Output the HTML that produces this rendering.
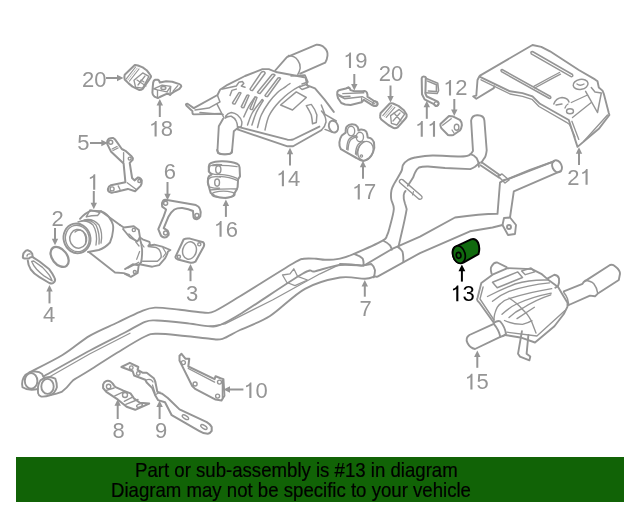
<!DOCTYPE html>
<html><head><meta charset="utf-8">
<style>
html,body{margin:0;padding:0;background:#fff;width:640px;height:512px;overflow:hidden}
svg{position:absolute;left:0;top:0;will-change:transform}
.banner{position:absolute;left:16px;top:457px;width:608px;height:45px;background:#116306}
.t{position:absolute;will-change:transform;font-family:"Liberation Sans",sans-serif;font-size:18.63px;color:#000;white-space:pre;line-height:20px;transform:scaleY(1.07);transform-origin:0 16px;-webkit-text-stroke:0.2px #000}
</style></head><body>
<svg width="640" height="512" viewBox="0 0 640 512">
<g id="p7" stroke="#959595" stroke-width="1.89" fill="none" stroke-linejoin="round" stroke-linecap="round">
<path d="M29.5 372.3C35.0 369.4 52.4 361.1 62.5 355.0C72.6 348.9 80.8 341.0 90.0 335.6C99.2 330.2 109.2 326.5 117.5 322.5C125.8 318.5 133.8 314.3 140.0 311.8C146.2 309.3 148.3 307.9 155.0 307.6C161.7 307.3 171.7 309.0 180.0 309.8C188.3 310.6 199.2 312.5 205.0 312.7C210.8 312.9 209.2 313.7 215.0 311.0C220.8 308.3 227.1 304.2 240.0 296.3C252.9 288.4 281.9 270.1 292.5 263.8C303.1 257.6 299.8 259.6 303.8 258.8C307.8 258.0 312.8 258.6 316.3 258.8C319.8 259.0 321.1 259.8 325.0 259.8C328.9 259.8 335.2 259.6 340.0 258.6C344.8 257.6 347.0 256.9 354.0 253.9C361.0 250.9 376.7 244.0 382.2 240.9C387.7 237.8 385.8 237.7 387.0 235.5C388.2 233.3 388.4 232.4 389.5 228.0C390.6 223.6 393.5 214.0 393.8 209.2C394.1 204.4 391.6 202.2 391.2 199.0C390.8 195.8 391.0 192.6 391.5 190.0C392.0 187.4 392.7 186.6 394.4 183.4C396.1 180.2 400.1 174.1 401.5 171.0C402.9 167.9 401.9 166.8 403.0 165.0C404.1 163.2 406.0 161.2 408.0 160.0C410.0 158.8 410.9 158.2 415.0 157.5C419.1 156.8 424.2 155.7 432.5 155.5C440.8 155.3 458.2 157.1 465.0 156.3C471.8 155.6 471.7 151.9 473.0 151.0L471.1 120.6Q472 115 477.3 115.2Q484 115 484.4 120.6L486.7 150.3Q486 156 484.4 158.1L481.3 162.8"/>
<path d="M43.6 376.3C51.3 372.0 76.4 357.8 90.0 350.5C103.6 343.2 115.8 337.3 125.0 332.5C134.2 327.7 139.7 323.8 145.0 321.8C150.3 319.8 150.3 320.3 157.0 320.5C163.7 320.7 176.2 322.0 185.0 323.0C193.8 324.0 204.2 326.0 210.0 326.3C215.8 326.6 214.7 327.2 220.0 325.0C225.3 322.8 228.2 321.5 242.0 313.0C255.8 304.5 290.3 280.8 302.5 273.8C314.7 266.9 308.8 272.8 315.0 271.3C321.2 269.8 332.2 265.9 340.0 265.0C347.8 264.1 358.3 265.5 362.0 265.6Q366 265 366.6 264L391.6 249.2L420 236.7L455 217.5Q480 214 497.5 213.8L500 182.5Q503 180 508.8 178.8L553.8 161.3"/>
<path d="M47.5 378L90 353.8L130 333.2" stroke-width="1.24"/>
<path d="M210 326.3L225 323.8L272.5 300L320 273.8L340 264.4" stroke-width="1.30"/>
<path d="M50.6 395Q57 394 61.6 391.9Q67 388 71 382.5Q73 380 75.6 378.6C78.0 377.2 83.0 374.4 90.0 370.0C97.0 365.6 108.3 358.1 117.5 352.5C126.7 346.9 138.3 339.6 145.0 336.5C151.7 333.4 150.8 333.9 157.5 333.8C164.2 333.7 176.2 335.2 185.0 336.0C193.8 336.8 203.8 338.3 210.0 338.8C216.2 339.3 217.5 340.3 222.5 338.8C227.5 337.3 232.1 333.8 240.0 330.0C247.9 326.2 259.2 322.9 270.0 316.0C280.8 309.1 293.3 295.2 305.0 288.8C316.7 282.4 330.0 279.2 340.0 277.5C350.0 275.8 359.2 279.0 365.0 278.8C370.8 278.6 373.3 276.7 375.0 276.3Q376 277 377.5 276.6L420 253.1L470 231.3L492.5 227.5L502.5 225"/>
<path d="M354 253.9Q360 256 362.7 258.6Q364 262 363.4 265.6"/>
<path d="M383.8 241Q388 243 390 245.3Q391.5 248 391.9 249.7"/>
<path d="M340 264Q352 264 361.9 265.6Q367 264.5 371.3 264Q374 266 375 270.3Q375 274 373.6 277.3"/>
<path d="M397.8 246.9Q401 249 402.5 251.6Q403.5 256 403.3 261.7"/>
<path d="M398.6 246.1L401.7 232.8Q405 219 406.7 209.2Q405.5 205 404.9 203.3Q403.3 198 403.7 195.1Q404 192.5 405.5 191"/>
<path d="M407.8 185.8Q411 181 413.1 177.6Q414 175 414.9 172.9Q416 169.5 419 167.5Q422 166.4 428 166.5L445 168L470.3 169.1Q473 168 475 166.7L479.7 162.8"/>
<path d="M470.3 154.2Q474 155 476.6 158.1Q479 162 478.9 166.7"/>
<path d="M481.3 162L500 175.3M480.5 165.2L499.2 177.7"/>
<path d="M498 176L502 174L509 180L505 183Z" stroke-width="1.49"/>
<path d="M509.4 178.4L530 169.8L553.8 161.3"/>
<path d="M510 217.5L513.8 191.3L560 171.3"/>
<ellipse cx="557" cy="166.3" rx="4.6" ry="6.3" transform="rotate(-25 557 166.3)"/>
<path d="M502.5 225L504 218L510 217.5L516 225L515 234L508 235Z"/>
<circle cx="509" cy="227" r="2"/>
<path d="M25.6 374.7Q29 372 33.4 371.6Q39 371 42 373.9L43.6 377M22.5 387.2Q21 380 25.6 374.7M22.5 387.2Q28 391 38 389"/>
<ellipse cx="31.1" cy="380.9" rx="6.3" ry="7.8"/>
<path d="M38.1 393.4Q37 385 40.5 380.2Q45 377 50.6 377L55.3 378.6Q57 383 56.9 387.2Q55 393 50.6 395Q45 397 41.3 396.6Q38.5 395.5 38.1 393.4"/>
<ellipse cx="47.5" cy="386.4" rx="6.2" ry="7.5"/>
<path d="M282.5 275L286.9 282.5L295 285.6L307.5 280L297.5 276.3L293.8 268.8L290 273.8Z" stroke-width="1.30"/>
<path d="M402.6 179.6Q400 178.8 399.3 181.3Q399.2 182.5 400.5 183.2L418.8 199Q421 199.8 422 198Q422.3 196.5 421.3 195.7Z" stroke-width="1.40"/><path d="M413.5 191.5L412.5 195" stroke-width="1.08"/>
</g>
<g id="p15" stroke="#959595" stroke-width="1.89" fill="none" stroke-linejoin="round" stroke-linecap="round">
<path d="M491.6 273.8Q490 268 491.6 266.3Q494 262 497.2 262.5L506.6 267.2"/>
<path d="M547.8 278.4L554.4 274.7Q558 275 559 278.4Q559.5 283 558.1 285.9L555.3 287.8"/>
<path d="M493.8 322.8L479.4 302.8Q476 300 477.5 298.1L481.3 283.1L492.5 274.7L507.5 268.1L531.9 269.1L541.3 273.8L547.8 279.4L558.1 286.9L561.9 293.4L567.5 302.8L567.5 306.6L563.8 314L554.4 326.3L535 342.5L521.9 337.8L505 335"/>
<path d="M483.1 287L480 299L494 320" stroke-width="1.36"/>
<path d="M506.9 332.2L536.9 336L565 310.6" stroke-width="1.36"/>
<path d="M492.5 282.2L517.8 271.9L522.5 277.5L497.2 287.8Z" stroke-width="1.49"/>
<path d="M521.6 271L531 268L534.7 271.9L525.3 274.7Z" stroke-width="1.36"/>
<path d="M487.5 296.5Q500 290 515 284Q530 279.5 547.5 280" stroke-width="1.37"/>
<path d="M492.5 301.3Q500 295 509 291.4Q528 285 549.4 282.9" stroke-width="1.37"/>
<path d="M493.8 322.5Q494 316 495 312.9Q497 306 500.6 303.6Q504 300 510 298.4Q530 292 551.7 288.6" stroke-width="1.37"/>
<path d="M502 314.3Q510 307 516.6 304Q532 297 551.2 293.2" stroke-width="1.37"/>
<path d="M509 317.6Q516 311 523 308Q535 300 550.8 294.8" stroke-width="1.37"/>
<path d="M517 318.6L534.4 307.3" stroke-width="1.37"/>
<path d="M509 298Q513 300.5 516.6 303.6Q520 306.5 523.1 310.1Q525 312 526.9 313.9Q529.5 317.5 531.6 321.4L536 333" stroke-width="1.37"/>
<path d="M504.5 320.5Q512 324 522.5 324.4Q528 323 531.9 320.6" stroke-width="1.37"/>
<path d="M469.4 335Q465 338 467.5 343Q470 348 475 349L500.3 336.9M469.4 335L493.8 323.8"/>
<path d="M493.8 322.8Q498 320 500.3 321.5Q505 327 506 334Q504 336 500.3 336.9M493.8 323.8Q499 330 500.3 336.9"/>
<path d="M521.9 331.3L518 353.8L520 356.6L529.4 360.3L530.3 356.6L526.6 353.8L528.4 335"/>
<path d="M563.8 291.3L582.5 283.8L583.8 281.9L610 265Q613 264 615 266.3Q620 270 620 273.8L618.8 280L597.5 293.8L595 296.3L590 295.6L568.8 305"/>
<path d="M585 280.6Q591 281 593.8 283.8Q597 288 597.5 292.5M563.8 292.5Q566 295 567.5 298.8L568.8 305" stroke-width="1.49"/>
</g>
<g id="p14" stroke="#959595" stroke-width="1.89" fill="none" stroke-linejoin="round" stroke-linecap="round">
<path d="M193.8 108.1L187.5 103.8Q185 104 186.3 105.5L192.5 111.3Q192 114 193.8 114.4L221.3 113.8"/>
<path d="M193.8 108.1L217.5 95L220 89.8L227.5 84.8L245 76L262.5 69.1L268.8 69.1L275.9 72L305.6 77.5L307.2 85.3L315 88.4L324.4 99.4L333.8 111.9"/>
<path d="M195 110L208.8 108.1L220 101.9L217.5 95.6" stroke-width="1.49"/>
<path d="M216.9 103.8L223.8 117.5M200 112.5L223.1 114.4" stroke-width="1.49"/>
<path d="M223.1 118.8L218.8 126.3L217.5 150Q218 153 218.8 153.1Q222 154.6 226.3 154.4Q231 154 231.9 152.5L233.8 131.3L237.5 128.1"/>
<path d="M225.6 116.3Q228 113 231.3 112.5Q235 113 237.5 115Q241 118 241.9 121.9Q242 124 241.3 126.3L238.1 128.1M225 118.1Q228 116 231.3 116.3Q235 118 236.3 121.3Q237.5 124 237.5 126.9" stroke-width="1.49"/>
<path d="M238.1 126.9L287.5 139.7Q291 140.2 293 139.5L319.4 126.6M237.5 129.4L287.5 146.3L293.1 146.3L321.3 130.3"/>
<path d="M321.3 105L325 114.4M325 114.4L336.3 121M325 129.4L332.5 132.2M321.5 111Q326 116 326 122Q325 127 321.5 130" stroke-width="1.49"/>
<ellipse cx="333.5" cy="126.6" rx="4.5" ry="6" transform="rotate(-20 333.5 126.6)"/>
<path d="M275.2 70.5L286.9 57.2L316.6 44.7Q322 44.5 324.4 47.8Q328 51 327.5 55.6Q327 60 325.2 62.7L300.2 73.6"/>
<path d="M288.4 55.6Q295 56 297.8 60.3Q300.5 64 300.2 68.1Q299.5 72 297.8 74.4" stroke-width="1.49"/>
<path d="M291 76L305 75L308 82L302 84" stroke-width="1.49"/>
<path d="M280.6 105L296.3 91.9L306.3 97.5L292.5 110Z" stroke-width="1.49"/>
<path d="M306.3 105.6L311.3 104.4Q315 109 316.9 115L316.3 122.5L312.5 123.8Q312 118 311.3 115Q309 110 306.3 105.6Z" stroke-width="1.49"/>
<path d="M299 87L306 84.5L309 87L302 89.5Z" stroke-width="1.36"/>
<g stroke-width="1.49">
<path d="M222.5 89.1L236.3 86L238.8 82.3L242.5 81.6L243.8 83.5L241.3 86L245 87.3"/>
<path d="M230 95.4L231.9 90.4L236.3 89.1"/>
<path d="M250 89.1L261.3 72.3Q263 71 264 71.6Q265.5 72.5 265 73.5L252.5 90.5Q250.5 90.8 250 89.1Z"/>
<path d="M257.5 92.3L272 74.5Q274 74 275 75L260 93.5Q258 93.6 257.5 92.3Z"/>
<path d="M265 95.4L278 78Q280 77.5 280.5 78.5L267.5 96.5Q265.5 96.8 265 95.4Z"/>
<path d="M232.5 102.9L238.8 92.9Q240 92 241 93L235 104Q233 104.2 232.5 102.9Z"/>
<path d="M241.3 106.6L246.9 95.4Q248 94.5 249 95.5L243.8 107.6Q242 108 241.3 106.6Z"/>
<path d="M250 108.5L255 97.3Q256 96.5 257 97.5L252.5 109.5Q250.5 109.8 250 108.5Z"/>
<path d="M243.8 116.9C244.6 115.1 246.9 109.6 248.8 106.3C250.7 103.0 254.0 98.5 255.0 96.9"/>
<path d="M247.5 125.0C248.3 122.9 250.1 116.7 252.5 112.5C254.9 108.3 260.3 102.1 261.9 100.0"/>
<path d="M251.9 125.0C252.6 122.9 254.4 116.6 256.3 112.5C258.2 108.4 262.0 102.6 263.1 100.6"/>
<path d="M257.5 127.5C258.1 125.4 259.4 119.2 261.3 115.0C263.2 110.8 266.1 106.2 268.8 102.5C271.5 98.8 275.1 94.8 277.5 92.5C279.9 90.2 280.9 90.0 283.0 88.5C285.1 87.0 288.8 84.3 290.0 83.5"/>
<path d="M265.0 130.0C265.6 127.7 266.9 120.5 268.8 116.3C270.7 112.1 273.6 108.3 276.3 105.0C279.0 101.7 282.3 98.7 285.0 96.3C287.7 93.9 290.0 92.2 292.5 90.5C295.0 88.8 298.8 86.8 300.0 86.0"/>
<path d="M261.9 100Q262.6 98.8 263.1 100.6"/>
</g>
</g>
<g id="p21" stroke="#959595" stroke-width="1.89" fill="none" stroke-linejoin="round" stroke-linecap="round">
<path d="M480 75.6L532.5 45L541.3 46.9L550 51.3L578.8 70L595 79.4L597.5 81.3L598.8 87.5L602.5 90.6L603.8 93.8L608.8 113.1L609.4 115L598.8 128.8L577.5 146.9L568.8 120L540 103.8L532.5 96.3L522.5 93.1L510 91.3L480 76.9Z"/>
<path d="M479.4 76.3L477.5 80L476.3 95.6L473.1 96.3L476.3 98.8L493.8 88.1L494.4 86.3"/>
<path d="M481 79.8L510 94L522.5 96.3L532 99.3L539 106.5L566.5 122.3L569.5 124.5L575 137" stroke-width="1.36"/>
<path d="M571.9 121.3L578.8 139.4M583.8 141.3L607.5 115" stroke-width="1.36"/>

<path d="M501.9 71.9Q500 70 502 69.5L550.5 96.5Q551.5 98.5 549.5 98.5Z" stroke-width="1.49"/>
<path d="M531.3 53.8Q530 51.5 532.5 51.5L572.5 74.5Q573.5 76.5 571.5 76.8Z" stroke-width="1.49"/>
<path d="M533.8 86.3L550 77.5L559.5 72.5M534.8 88L551 79.2L560.5 74.2" stroke-width="1.36"/>
<ellipse cx="580.6" cy="84.4" rx="7.5" ry="5" transform="rotate(-10 580.6 84.4)" stroke-width="1.49"/>
<path d="M577 84Q580 86.5 584 84" stroke-width="1.36"/>
<path d="M553.8 104Q556 98 562 97.5Q568 98 569 102" stroke-width="1.49"/>
<path d="M556 105L562 104" stroke-width="1.36"/>
<ellipse cx="570" cy="111.3" rx="3.5" ry="2.5" stroke-width="1.36"/>
<path d="M565 108Q566 105 568 104M571.3 102.5L587.5 95" stroke-width="1.36"/>
<path d="M572.5 117.5L591.3 102.5" stroke-width="1.36"/>
<path d="M591.3 87.5L595 91.9L601.3 93.1L597.5 112.5L585.6 91.3" stroke-width="1.49"/>
</g>
<g id="p1" stroke="#959595" stroke-width="1.89" fill="none" stroke-linejoin="round" stroke-linecap="round">
<ellipse cx="77" cy="238.4" rx="13.4" ry="15" transform="rotate(-15 77 238.4)" stroke-width="1.90"/>
<ellipse cx="77.3" cy="238.5" rx="11.8" ry="13.3" transform="rotate(-15 77.3 238.5)" stroke-width="1.37"/>
<ellipse cx="78.2" cy="238.8" rx="8.4" ry="9.4" transform="rotate(-10 78.2 238.8)" stroke-width="1.49"/>
<path d="M75 232Q79 228.5 83 231.5Q87 236 85.5 244" stroke-width="1.37"/>
<path d="M78 222Q87 219 93 225Q98 233 96 245M81 221Q90 218 96 225Q100 233 99 244M84 220Q93 218 99 225Q103 233 101 243" stroke-width="1.36"/>
<path d="M80 218.8Q85 213 91.3 210.6L101.3 211.3Q108 214 110 218.8Q114 224 113.1 230Q112.5 237 110 242.5Q105 248 98.8 250L88 252"/>
<path d="M86.3 216.9L90 210M90 210L100 212.5L97.5 215.6Q92 215.5 86.3 216.9" stroke-width="1.49"/>
<path d="M101 211.3L120 225"/>
<path d="M88.8 251.9L115 272.5L123.8 273.1L129 275"/>
<path d="M120 225L123.8 227.5L133.8 226.3L138.8 230L140 237.5L137.5 241.3L130 237.5L123 229"/>
<circle cx="133.8" cy="230" r="1.6" stroke-width="1.36"/>
<path d="M140 237.5L142.6 239.3L149.4 241.8Q150.5 244 148.4 245.7L154.3 244.7L162.1 246.6L170.4 250L168 251.5Q167 255 165 258.4L159.2 265.2L152.3 266.7L144.5 265.2L139.6 264.2"/>
<path d="M148.4 246.6L156.3 247.6Q159.5 249 160.2 251.5Q161.5 254 161.1 257.4Q159.5 260 157.2 261.3L142.6 261.3" stroke-width="1.49"/>
<path d="M141 243L144 247M163 248L166 253L163 257" stroke-width="1.24"/>
<path d="M139.6 237.9Q141.5 243 142.1 249.6Q142.3 257 141.1 262.3L138.7 265.2"/>
<path d="M139.6 251.5L136.7 259.3M135.7 241.8L139 246" stroke-width="1.24"/>
<path d="M125 269.1L132.8 264.2L138.7 265.2L137.7 273L130.9 276.9L125 274"/>
<circle cx="134.8" cy="272" r="1.5" stroke-width="1.37"/>
<path d="M127.9 268.1L138.7 262.3" stroke-width="1.37"/>
<path d="M128.9 234L136.7 241.8" stroke-width="1.37"/>
</g>
<g id="small1" stroke="#959595" stroke-width="1.89" fill="none" stroke-linejoin="round" stroke-linecap="round">
<ellipse cx="59.6" cy="256.9" rx="11.3" ry="7.4" transform="rotate(52 59.6 256.9)" stroke-width="2.28"/>
<path d="M27.8 260.5Q28 265 30.7 269.3Q34 274 39.5 277.1L49.3 283Q52 284 53.2 283Q56 281 54.7 278.1Q53 274 49.3 269.3L39.5 261.5L32.7 257.1" stroke-width="2.02"/>
<path d="M22.9 256.6Q23 253 24.9 251.7Q26 250 27.8 250.3Q31 251 32.2 253.7L32.7 257.1Q30 257 28.8 258.6L24.4 258.6Q22.5 258 22.9 256.6Z" stroke-width="2.02"/>
<path d="M27 256Q27.5 253.5 30 254" stroke-width="1.36"/>
<path d="M31.7 261.5Q33 265 36.6 269.3Q40 273 44.4 276.2L52.2 281Q51 278 49.3 275.2Q46 271 42.5 267.4L33.7 261Z" stroke-width="1.36"/>
<path d="M175.5 256.8L183.7 239.3Q186 238 190 238.6L203.2 242.2Q205 244 203.5 247L195.4 261.7Q193 263 190.5 262.7L178 259.5Q175 258.5 175.5 256.8Z" stroke-width="2.02"/>
<ellipse cx="189.5" cy="250.5" rx="6.8" ry="8.8" transform="rotate(15 189.5 250.5)" stroke-width="1.49"/>
<circle cx="199.3" cy="244.3" r="1.6" stroke-width="1.36"/>
<circle cx="178.9" cy="256.8" r="1.6" stroke-width="1.36"/>
</g>
<g id="small2" stroke="#959595" stroke-width="2.02" fill="none" stroke-linejoin="round" stroke-linecap="round">
<path d="M109.1 138.7Q111 137.8 113.3 138.1Q115 139 116.3 141.1L121.8 149L125.4 150.8L131.5 156.2Q133.5 158 132.7 159.8L129.7 162.9L132.1 178L134.5 180.4L138.1 177.4Q140.5 177.5 141.8 180.4Q142 184 140.6 185.9L135.1 191.3L127.8 188.9L115.7 191.9Q112.5 193 110.9 192.5Q107.5 191.5 107.9 188.9Q108.5 186.3 110.9 185.3L125.4 182.2L123.6 163.5L110.9 151.4L107.3 144.1Q106.5 140.5 109.1 138.7Z"/>
<circle cx="110.7" cy="142.3" r="2" stroke-width="1.49"/>
<circle cx="129.7" cy="158.6" r="1.5" stroke-width="1.36"/>
<circle cx="139.3" cy="181" r="1.5" stroke-width="1.36"/>
<circle cx="112.1" cy="188.9" r="2" stroke-width="1.36"/>
<path d="M112.1 149L117 146.5M113 150.5L118 148M123.6 152.6L123.6 162.3M127.2 182.8L136.3 189.5M118.2 185.9L120 189.5" stroke-width="1.36"/>
<path d="M162.2 202.7Q163 200 165.1 199.8L168.6 200.3L195.9 205.1Q199 206.5 199.8 208.6Q201.5 212 200.3 216.4Q199 219 196.9 219.3Q194 219 193.5 216.9L193 211Q189 209 182.2 208.1Q177 208 174.4 209.5Q171 212 168.6 216.4L163.7 228.1L167.6 230.6Q169 233 168.6 235Q167 237.5 164.7 237.4Q161.5 237 160.7 235L158.3 229.1L163.7 216.4L166.1 209.5L162.2 206.6Q161.5 204.5 162.2 202.7Z"/>
<circle cx="165.6" cy="203.2" r="2" stroke-width="1.49"/>
<circle cx="196.9" cy="215.4" r="2" stroke-width="1.49"/>
<circle cx="165.6" cy="233" r="2" stroke-width="1.49"/>
</g>
<g id="small3" stroke="#959595" stroke-width="1.89" fill="none" stroke-linejoin="round" stroke-linecap="round">
<path d="M208.8 166.6Q209 164 210.7 163.2Q215 161 222.5 161.2Q232 161.5 237.1 163.7Q239.5 165 239.6 167.6L240 176.4L238.1 179.3L237.6 187.1Q237 190 235.2 192L233.2 195.9Q230 197.9 225.4 197.9Q219 197.8 214.6 195.9L210.7 193L209.8 190L207.8 182.2Q207.5 178 208.8 176.4L211.7 174.4L208.8 171.5Z" stroke-width="2.02"/>
<path d="M212.7 165.6Q225 165 237.1 166.6M219.5 174.4Q230 175 237.1 178.3M219.5 176.4Q230 177 237.1 180.3M209.8 190Q225 188.5 237.1 189" stroke-width="1.36"/>
<path d="M221.5 164.8Q214 163.5 210 166Q207.8 169.5 209.5 172.5Q212 174.8 219.5 174.4" stroke-width="1.40"/>
<ellipse cx="218.3" cy="169.6" rx="2.6" ry="3.8" stroke-width="1.40"/>
<path d="M220.5 177Q212 175.8 209 178.5Q207 183 208.5 186Q211 188.6 219.5 188.2" stroke-width="1.40"/>
<ellipse cx="217.1" cy="182.6" rx="2.4" ry="3.6" stroke-width="1.40"/>
<ellipse cx="223.4" cy="194.4" rx="11.5" ry="3.3" stroke-width="1.36"/>
<path d="M217.1 150L218 152.9Q220 154.5 224.4 154.4Q230 154.2 231.3 152.9L232.2 150" stroke-width="1.89"/>
<path d="M341.8 135.5L345.7 132.6Q345.5 128 346.7 126.7Q349 124 352.6 124.3Q356 124.5 357.5 126.7Q358.5 128.5 358.4 130.6Q360 129.5 361.4 129.6Q365 130 366.3 131.6Q367.5 134 367.7 137.5Q371 138 372.1 139.4Q374.5 142 374.1 144.3Q375 148 373.1 152.1Q371.5 156 369.2 158Q366 160.5 363.3 160.9Q360 160.5 356.5 158L349.6 154.1L340.9 149.2Q339 146 339.4 142.3Q340 138 341.8 135.5Z" stroke-width="2.02"/>
<ellipse cx="365.5" cy="151" rx="7.5" ry="9.8" transform="rotate(20 365.5 151)" stroke-width="1.36"/>
<path d="M346.7 149.2Q347 141 349.6 138.4Q352 136 356.5 135.5M348 150Q348.5 142 351 139.5Q354 137 357.5 137M355.5 154.1Q356 147 358.4 144.3Q361 141.5 364.3 141.4M356.8 155Q357.5 148 360 145.5" stroke-width="1.36"/>
<ellipse cx="351.1" cy="131.1" rx="3.6" ry="4.8" stroke-width="1.36"/>
<ellipse cx="359.9" cy="137" rx="3.6" ry="4.8" stroke-width="1.36"/>
<circle cx="361.4" cy="156" r="1.2" stroke-width="1.24"/>
</g>
<g id="small4" stroke="#959595" stroke-width="1.89" fill="none" stroke-linejoin="round" stroke-linecap="round">
<path d="M124.7 74.8L134.8 65.1Q136.5 65 138 65.5L142.7 67.4L146.6 70.2L149.7 74.1Q151.5 76 150.9 77.2L142.7 88.9Q141 90.2 139.5 90.1L132.5 86.6L128.6 83.4L124.7 79.5Q124 77 124.7 74.8Z" stroke-width="2.02"/>
<path d="M126.3 78.8L135.6 67M129.5 81L139 69" stroke-width="1.2"/><path d="M127.9 79.9L137.3 68" stroke-width="0.7" stroke-dasharray="1 1"/>
<path d="M134 80.3L142.7 72.9L148.9 76.4L142.7 88.1L135.6 87.3Z" stroke-width="1.36"/>
<path d="M137 80L146 86M145 76L138 85M139 84L141 80L144 82" stroke-width="1.24"/>
<path d="M153.2 82.5Q153.5 80.5 155.2 79.8L157.9 79.8Q159.5 80.5 159.8 82.5L166.1 81.3L172.3 81.7L179.4 84.1Q181.5 85 181.3 86.4L179.4 88.8L173.9 91.9L171.6 93.4L170 95L167.7 93.4L159.8 97L157.9 98.1L154.4 96.6Q152.5 95 152.4 92.7L152.8 86.4Z" stroke-width="2.02"/>
<path d="M153.6 88.8L162.2 85.2L170.8 86.4L166.9 91.9L157.5 89.9ZM157.5 90.3L157.5 97.3M170.8 86.4L170 93.4M177.8 85.6L173.1 91.1" stroke-width="1.36"/>
<ellipse cx="163.4" cy="88" rx="2.5" ry="1.5" stroke-width="1.36"/>
<path d="M337.3 92Q338 90.5 339.7 90.1L345.9 88.5L348.3 87.3Q350 88 350.6 90.1L354.5 91.3L362.3 91.3L364.7 90.9Q366.5 91.5 367 92.8Q367.8 95 367.4 96.7L374.1 101L377.2 102.2Q378 103.5 377.6 104.5Q376.8 106 375.6 106.1Q374 106 372.5 105.3L363.9 99.8L361.6 102.2L350.6 104.9L345.2 104.5L341.3 103L338.1 98.3Q336.8 95 337.3 92Z" stroke-width="2.02"/>
<path d="M338.1 94.4L342.8 96.7L350 96.3M338.9 95.9L344.4 98.7L362.3 96.7M342.8 93.6L363.9 92.8M361.6 97.5L361.6 101.8M363 97L375 104" stroke-width="1.36"/>
<ellipse cx="375" cy="103.8" rx="2.2" ry="2.6" stroke-width="1.36"/>
<path d="M380.5 113.3L389.8 103.5Q391.5 103 393 103.5L398.4 105.9L403.9 110.2L406.6 114.5Q407 116.5 405.9 118L397.7 127.3Q395.7 128.5 393.8 128.1L388.3 125L381.3 119.5Q379.8 118 380.1 116.4Z" stroke-width="2.02"/>
<path d="M382.8 115.6L391.4 105.5M386.2 117.4L394.8 107.3" stroke-width="1.2"/><path d="M384.5 116.5L393.1 106.4" stroke-width="0.7" stroke-dasharray="1 1"/>
<path d="M390.6 115.6L399.2 109.4L404.7 114L396.9 125L391.4 123.4Z" stroke-width="1.36"/>
<path d="M394 113L401 121M400 113L393 121" stroke-width="1.24"/>
<path d="M421.7 78.2Q422 76.5 423.5 76.5Q425.5 76.5 425.8 77.4L425.4 93.6L426.8 96.5L437.8 101.6Q439 103 438.6 103.8Q437.8 106 435.6 106L433.4 103.8L424.6 99.4L422 94.3Z" stroke-width="2.02"/>
<path d="M425.8 78.2L437.8 83.3L438.6 90.6L437.1 93.6L425.4 92.8M427.6 81.1L436.4 84.8L436.4 91.4L428.3 91.1" stroke-width="1.49"/>
<ellipse cx="436.4" cy="103.8" rx="2.2" ry="2" stroke-width="1.36"/>
<path d="M440.4 124.1L449 116Q451 116 453.3 116.6L459.8 119.8Q461.8 122 461.9 125.2Q461.5 128.5 459.8 130.5L453.3 135Q450.5 135.6 448 135L441.5 128.4Q440 126 440.4 124.1Z" stroke-width="2.02"/>
<path d="M442.6 125.2L451.2 118.7" stroke-width="1.36"/>
<ellipse cx="456.6" cy="127.3" rx="2.3" ry="3" stroke-width="1.36"/>
<path d="M452 130L454 133" stroke-width="1.24"/>
</g>
<g id="small5" stroke="#959595" stroke-width="2.02" fill="none" stroke-linejoin="round" stroke-linecap="round">
<path d="M103.1 384.5Q104 381.5 106.3 380.9Q109 380.5 110.2 381.3Q112.5 383 114.1 385.6L115.6 387.2L123.4 390.7L130.5 393.4L132.8 396.6L133.6 398.1L139.8 402.8L149.2 403.6L135.2 409.8L126.6 406.7L118 399.7L106.3 391.9L103.1 388Z"/>
<circle cx="108.6" cy="386.4" r="2.2" stroke-width="1.36"/>
<circle cx="125" cy="395" r="2.5" stroke-width="1.36"/>
<path d="M105.5 390.7L114.1 388M114.8 395.8L123.4 391.9M124.2 401.3L132 397.3M125.8 404.4L138 399.5" stroke-width="1.36"/>
<ellipse cx="139.5" cy="405.5" rx="3" ry="1.5" transform="rotate(-20 139.5 405.5)" stroke-width="1.36"/>
<path d="M121.4 367L129.8 362.8L138.3 367L137.6 369.8L142.5 372.7L146.7 372.7L153.8 378.3Q155.5 381 155.9 384.6L157.3 391.6Q159 393 162.2 393.8L167.8 398L179.5 409.4L206.8 422.1Q210 424 211.7 427L211.7 430.9Q210 433.5 207.8 433.8Q203 433.5 199 430.9L171.7 415.2L165 402.2L158 400.1L155.2 395.2L152.3 388.1L146.7 382.5L145.3 379.7L134.1 375.5L132.7 371.3Z"/>
<circle cx="131.3" cy="367.7" r="1.8" stroke-width="1.36"/>
<circle cx="138.3" cy="373.4" r="1.8" stroke-width="1.36"/>
<path d="M146 380Q151 378 153 382M152.5 385L155 393M155 395L160 392" stroke-width="1.24"/>
<ellipse cx="185.4" cy="417.2" rx="3.6" ry="1.6" transform="rotate(32 185.4 417.2)" stroke-width="1.36"/>
<ellipse cx="203.9" cy="427" rx="3.6" ry="1.6" transform="rotate(32 203.9 427)" stroke-width="1.36"/>
<path d="M179.5 355.7L181.5 353.8L185.4 358.7L189.3 358.7L188.3 366.5L214.6 379.1L215.6 376.2L220.5 378.2L223.4 379.1L224.4 395.7L221.5 400.6L215.6 399.6L195.1 388.9L192.2 386L179.5 360.6Z"/>
<path d="M188.3 368.5L214.6 382.1M222.4 380.1L222.4 397.7" stroke-width="1.36"/>
<circle cx="183.4" cy="362.6" r="2" stroke-width="1.36"/>
<circle cx="195.1" cy="384" r="2" stroke-width="1.36"/>
<circle cx="219.5" cy="382.1" r="2" stroke-width="1.36"/>
<circle cx="217.6" cy="396.1" r="2" stroke-width="1.36"/>
</g>
<defs><path id="g1" d="M6 0H8.1V-15.6H6.7Q5.9 -14 4.6 -13.2Q3.6 -12.6 2.7 -12.4V-10.7Q4.5 -11.2 6 -12.2Z"/></defs>
<g id="labels" font-family="Liberation Sans, sans-serif" font-size="22" fill="#959595">
<text x="81.98" y="86.90" transform="matrix(1 0 0 1.03 0 -2.607)">2</text>
<text x="94.22" y="86.90" transform="matrix(1 0 0 1.03 0 -2.607)">0</text>
<use href="#g1" x="148.56" y="136.50"/>
<text x="160.79" y="136.50" transform="matrix(1 0 0 1.03 0 -4.095)">8</text>
<use href="#g1" x="342.93" y="68.00"/>
<text x="355.17" y="68.00" transform="matrix(1 0 0 1.03 0 -2.040)">9</text>
<text x="378.88" y="81.00" transform="matrix(1 0 0 1.03 0 -2.430)">2</text>
<text x="391.12" y="81.00" transform="matrix(1 0 0 1.03 0 -2.430)">0</text>
<use href="#g1" x="442.96" y="95.50"/>
<text x="455.19" y="95.50" transform="matrix(1 0 0 1.03 0 -2.865)">2</text>
<use href="#g1" x="414.70" y="136.70"/>
<use href="#g1" x="426.94" y="136.70"/>
<use href="#g1" x="275.85" y="186.20"/>
<text x="288.09" y="186.20" transform="matrix(1 0 0 1.03 0 -5.586)">4</text>
<use href="#g1" x="351.71" y="199.50"/>
<text x="363.94" y="199.50" transform="matrix(1 0 0 1.03 0 -5.985)">7</text>
<text x="567.28" y="184.70" transform="matrix(1 0 0 1.03 0 -5.541)">2</text>
<use href="#g1" x="579.52" y="184.70"/>
<text x="77.28" y="150.00" transform="matrix(1 0 0 1.03 0 -4.500)">5</text>
<text x="163.82" y="179.00" transform="matrix(1 0 0 1.03 0 -5.370)">6</text>
<use href="#g1" x="87.15" y="189.80"/>
<text x="51.62" y="225.80" transform="matrix(1 0 0 1.03 0 -6.774)">2</text>
<use href="#g1" x="213.51" y="236.70"/>
<text x="225.74" y="236.70" transform="matrix(1 0 0 1.03 0 -7.101)">6</text>
<text x="185.90" y="301.30" transform="matrix(1 0 0 1.03 0 -9.039)">3</text>
<text x="43.05" y="322.50" transform="matrix(1 0 0 1.03 0 -9.675)">4</text>
<text x="359.40" y="316.50" transform="matrix(1 0 0 1.03 0 -9.495)">7</text>
<use href="#g1" x="450.26" y="301.20" fill="#000"/>
<text x="462.49" y="301.20" transform="matrix(1 0 0 1.03 0 -9.036)" fill="#000">3</text>
<use href="#g1" x="464.38" y="389.40"/>
<text x="476.62" y="389.40" transform="matrix(1 0 0 1.03 0 -11.682)">5</text>
<use href="#g1" x="243.33" y="398.00"/>
<text x="255.57" y="398.00" transform="matrix(1 0 0 1.03 0 -11.940)">0</text>
<text x="112.43" y="438.20" transform="matrix(1 0 0 1.03 0 -13.146)">8</text>
<text x="154.88" y="438.20" transform="matrix(1 0 0 1.03 0 -13.146)">9</text>
</g>
<g id="arrows" stroke="#959595" stroke-width="2" fill="#959595">
<path d="M106 78H118"/><path d="M123.5 78l-6.5-3.2v6.4z" stroke="none"/>
<path d="M159.8 117V104"/><path d="M159.8 99l-3.2 6.5h6.4z" stroke="none"/>
<path d="M354.3 74V85"/><path d="M354.3 90.5l-3.2-6.5h6.4z" stroke="none"/>
<path d="M390.5 85.5V97"/><path d="M390.5 102.5l-3.2-6.5h6.4z" stroke="none"/>
<path d="M454.3 99V110"/><path d="M454.3 116l-3.2-6.5h6.4z" stroke="none"/>
<path d="M426.8 118.8V106"/><path d="M426.8 100.8l-3.2 6.5h6.4z" stroke="none"/>
<path d="M290 165.5V153"/><path d="M290 147.8l-3.2 6.5h6.4z" stroke="none"/>
<path d="M363 178.8V166"/><path d="M363 160.8l-3.2 6.5h6.4z" stroke="none"/>
<path d="M579 165V152"/><path d="M579 147.3l-3.2 6.5h6.4z" stroke="none"/>
<path d="M90 143H102"/><path d="M107.8 143l-6.5-3.2v6.4z" stroke="none"/>
<path d="M167.5 182V195"/><path d="M167.5 200.3l-3.2-6.5h6.4z" stroke="none"/>
<path d="M93.8 191V204"/><path d="M93.8 209.3l-3.2-6.5h6.4z" stroke="none"/>
<path d="M55 228V240"/><path d="M55 245.3l-3.2-6.5h6.4z" stroke="none"/>
<path d="M225.9 216.9V205"/><path d="M225.9 199.4l-3.2 6.5h6.4z" stroke="none"/>
<path d="M190.5 281.2V269"/><path d="M190.5 264l-3.2 6.5h6.4z" stroke="none"/>
<path d="M49.5 303.4V290"/><path d="M49.5 285l-3.2 6.5h6.4z" stroke="none"/>
<path d="M364.8 296.7V285"/><path d="M364.8 280l-3.2 6.5h6.4z" stroke="none"/>
<path d="M477.3 367.8V356"/><path d="M477.3 350.6l-3.2 6.5h6.4z" stroke="none"/>
<path d="M243.4 389.5H229"/><path d="M223.5 389.5l6.5-3.2v6.4z" stroke="none"/>
<path d="M117.7 419V405"/><path d="M117.7 399.2l-3.2 6.5h6.4z" stroke="none"/>
<path d="M159.6 419V406"/><path d="M159.6 400.6l-3.2 6.5h6.4z" stroke="none"/>
</g>
<g stroke="#000" stroke-width="2" fill="#000">
<path d="M461.9 281.6V270"/><path d="M461.9 264.5l-3.4 6.8h6.8z" stroke="none"/>
</g>
<g id="p13" stroke="#000" stroke-width="2" fill="#106a0e">
<path d="M455 246.8L471 239.4Q475.5 238 478 242.5Q480.3 248 478.5 254L463.5 262.6Q458 264.3 454.6 259.5Q451.8 254 453 249.5Q453.7 247.6 455 246.8Z"/>
<ellipse cx="459" cy="254.6" rx="6.1" ry="8.9" transform="rotate(-15 459 254.6)" stroke-width="1.7"/>
<ellipse cx="458.6" cy="255.3" rx="2.3" ry="3" transform="rotate(-10 458.6 255.3)" stroke-width="1.7"/>
</g>
</svg>
<div class="banner"></div>
<div class="t" style="left:135.3px;top:461px">Part or sub-assembly is #13 in diagram</div>
<div class="t" style="left:110.5px;top:481px">Diagram may not be specific to your vehicle</div>
</body></html>
